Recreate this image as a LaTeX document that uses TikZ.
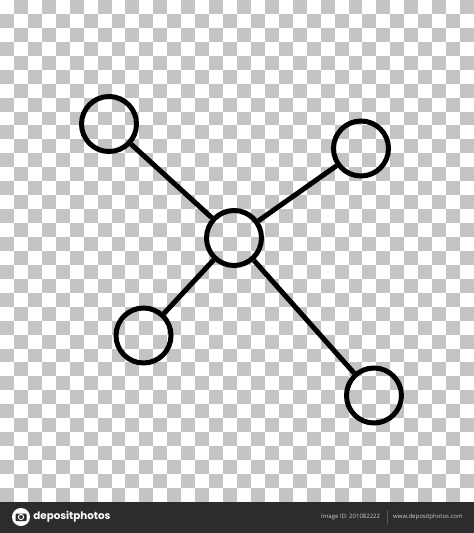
\documentclass[tikz,border=0pt]{standalone}
\usepackage{fontspec}
\newfontfamily\logofont{Poppins}
\newfontfamily\smallfont{Open Sans}
\usetikzlibrary{positioning}

\definecolor{checkgray}{RGB}{196,196,196}
\definecolor{bardark}{RGB}{44,44,44}
\definecolor{barText}{RGB}{205,205,205}

\begin{document}
\begin{tikzpicture}[x=1pt,y=-1pt]
        \useasboundingbox (0,0) rectangle (474,533);
        % checkerboard background
        \fill[white] (0,0) rectangle (474,502);
        \foreach \i in {0,...,33}
            \foreach \j in {0,...,35}{
                \pgfmathparse{int(mod(\i+\j,2))}
                \ifnum\pgfmathresult=1
                    \fill[checkgray] (\i*13.94,\j*13.94) rectangle ++(13.94,13.94);
                \fi
            };

        \tikzstyle{vertex}=[circle,draw=black,line width=5pt,
            minimum size=55pt,inner sep=0pt]
            \node[vertex] (hub) at (234,238) {};
            \node[vertex] (nw) at (109,124) {};
            \node[vertex] (ne) at (361,148.5) {};
            \node[vertex] (sw) at (143.5,335.5) {};
            \node[vertex] (se) at (374,395.5) {};

            \draw[line width=5pt] (hub) -- (nw);
            \draw[line width=5pt] (hub) -- (ne);
            \draw[line width=5pt] (hub) -- (sw);
            \draw[line width=5pt] (hub) -- (se);

        % bottom bar
        \fill[bardark] (0,502) rectangle (474,533);
            \node[circle,fill=white,minimum size=18pt,inner sep=0pt] (logo) at (21,517) {};
            \fill[bardark,rounded corners=1pt] ([shift={(-5.5,-3.5)}]logo.center) rectangle ([shift={(5.5,4)}]logo.center);
            \draw[white,line width=1pt] (logo.center) circle (2.6pt);
            \node[right=3pt of logo,inner sep=0pt,text=white] (brand)
                {\resizebox*{77pt}{11pt}{\logofont\bfseries depositphotos}};

            \node[anchor=west,inner sep=0pt,text=barText,
                font=\smallfont\fontsize{6}{7}\selectfont] (imgid) at (321,517) {Image ID: 201082222};
            \node[anchor=west,inner sep=0pt,text=barText,
                font=\smallfont\fontsize{6}{7}\selectfont] (site) at (393,517) {www.depositphotos.com};
            \draw[gray!70!black,line width=0.6pt] (387,510) -- (387,524);
\end{tikzpicture}
\end{document}
